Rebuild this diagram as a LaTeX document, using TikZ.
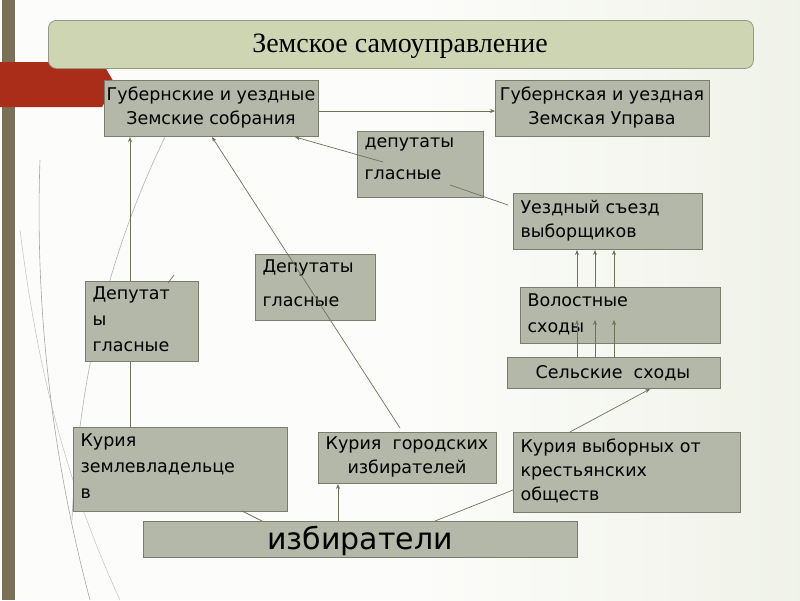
\documentclass[tikz,border=0pt]{standalone}
\usepackage{fontspec}
\setmainfont{DejaVu Sans}
\newfontfamily\titlefont{Liberation Serif}
\usetikzlibrary{arrows.meta}
\definecolor{boxfill}{HTML}{B3B8A8}
\definecolor{boxline}{HTML}{7A7D6A}
\definecolor{arr}{HTML}{6E7358}
\definecolor{titlefill}{HTML}{CDD5B3}
\definecolor{barcol}{HTML}{7A7055}
\definecolor{redcol}{HTML}{AA2D19}
\tikzset{
 bx/.style={draw=boxline,fill=boxfill,line width=0.8pt},
 tx/.style={font=\fontsize{17.5}{24}\selectfont,align=center},
 txl/.style={font=\fontsize{17.5}{24}\selectfont,align=left,anchor=north west},
 con/.style={draw=arr,line width=0.7pt,-{Stealth[length=5pt,width=4pt]}},
 ln/.style={draw=arr,line width=0.7pt},
}
\begin{document}
\begin{tikzpicture}[x=1pt,y=-1pt]
\useasboundingbox (0,0) rectangle (800,600);
\fill[white!95!titlefill] (0,0) rectangle (400,600);
\shade[left color=white!95!titlefill,right color=white!70!titlefill] (400,0) rectangle (800,600);
\fill[barcol] (2,0) rectangle (15,600);
\fill[redcol] (0,62) -- (102,62) -- (115,84) -- (102,107) -- (0,107) -- cycle;
% decorative swooshes
\draw[gray!60,line width=0.6pt] (165,137) .. controls (120,230) and (80,350) .. (72,520);
\draw[gray!70,line width=0.6pt] (40,160) .. controls (35,300) and (50,450) .. (90,600);
\draw[gray!50,line width=0.5pt] (20,230) .. controls (35,350) and (60,470) .. (120,600);
\node[draw=boxline!80,fill=titlefill,rounded corners=8pt,line width=0.8pt,minimum width=705pt,minimum height=48pt,anchor=north west] (title) at (48,20) {};
\node[font=\titlefont\fontsize{28}{32}\selectfont] (tt) at (400,46) {Земское самоуправление};
% connectors behind boxes
\coordinate (c1a) at (318,111); \coordinate (c1b) at (495,111);
\draw[con] (c1a) -- (c1b);
\coordinate (c9a) at (130,427); \coordinate (c9b) at (130,137);
\draw[con] (c9a) -- (c9b);
% boxes
\node[bx,minimum width=214pt,minimum height=56pt,anchor=north west] (b1) at (104,80) {};
\node[tx] (t1) at (211,108) {Губернские и уездные\\Земские собрания};
\node[bx,minimum width=214pt,minimum height=56pt,anchor=north west] (b2) at (495,80) {};
\node[tx] (t2) at (602,108) {Губернская и уездная\\Земская Управа};
\node[bx,minimum width=126pt,minimum height=66pt,anchor=north west] (b3) at (357,131) {};
\node[txl,font=\fontsize{17.5}{32}\selectfont] (t3) at (361,134) {депутаты\\гласные};
\node[bx,minimum width=189pt,minimum height=56pt,anchor=north west] (b4) at (513,193) {};
\node[txl] (t4) at (517,197) {Уездный съезд\\выборщиков};
\node[bx,minimum width=200pt,minimum height=56pt,anchor=north west] (b5) at (520,287) {};
\node[txl,font=\fontsize{17.5}{26}\selectfont] (t5) at (524,290) {Волостные\\сходы};
\node[bx,minimum width=213pt,minimum height=31pt,anchor=north west] (b6) at (507,357) {};
\node[tx] (t6) at (613,373) {Сельские\ \ сходы};
\node[bx,minimum width=227pt,minimum height=80pt,anchor=north west] (b7) at (513,432) {};
\node[txl] (t7) at (517,435) {Курия выборных от\\крестьянских\\обществ};
\node[bx,minimum width=178pt,minimum height=51pt,anchor=north west] (b8) at (318,432) {};
\node[tx] (t8) at (407,457) {Курия\ \ городских\\избирателей};
\node[bx,minimum width=214pt,minimum height=84pt,anchor=north west] (b9) at (73,427) {};
\node[txl,font=\fontsize{17.5}{26}\selectfont] (t9) at (77,430) {Курия\\землевладельце\\в};
\node[bx,minimum width=120pt,minimum height=66pt,anchor=north west] (b10) at (255,254) {};
\node[txl,font=\fontsize{17.5}{34}\selectfont] (t10) at (259,256) {Депутаты\\гласные};
\node[bx,minimum width=113pt,minimum height=80pt,anchor=north west] (b11) at (85,281) {};
\node[txl,font=\fontsize{17.5}{26}\selectfont] (t11) at (89,283) {Депутат\\ы\\гласные};
\node[bx,minimum width=434pt,minimum height=36pt,anchor=north west] (b12) at (143,521) {};
\node[font=\fontsize{30}{34}\selectfont] (t12) at (360,541) {избиратели};
% connectors over boxes
\coordinate (c3a) at (383,162); \coordinate (c3b) at (295,137);
\draw[con] (c3a) -- (c3b);
\coordinate (c4a) at (508,205); \coordinate (c4b) at (450,185);
\draw[ln] (c4a) -- (c4b);
\coordinate (c8a) at (400,428); \coordinate (c8b) at (212,137);
\draw[con] (c8a) -- (c8b);
\foreach \xx in {577,595,614}{\draw[con] (\xx,357) -- (\xx,320); \draw[con] (\xx,287) -- (\xx,250);}
\coordinate (c7a) at (570,432); \coordinate (c7b) at (650,389);
\draw[con] (c7a) -- (c7b);
\coordinate (c12a) at (435,521); \coordinate (c12b) at (513,490);
\draw[ln] (c12a) -- (c12b);
\coordinate (c12c) at (262,521); \coordinate (c12d) at (242,511);
\draw[ln] (c12c) -- (c12d);
\coordinate (c12e) at (338,521); \coordinate (c12f) at (338,484);
\draw[con] (c12e) -- (c12f);
\coordinate (s1) at (168,283); \coordinate (s2) at (174,275);
\draw[ln] (s1) -- (s2);
\end{tikzpicture}
\end{document}
